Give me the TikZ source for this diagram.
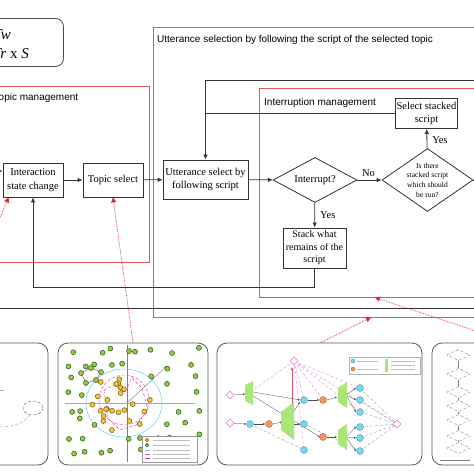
\documentclass[tikz,border=0pt]{standalone}
\usepackage{fontspec}
\setmainfont{Liberation Serif}
\newfontfamily\arial{Liberation Sans}
\usetikzlibrary{shapes.geometric,arrows.meta,calc}
\definecolor{redbox}{RGB}{225,85,100}
\definecolor{reddot}{RGB}{215,40,60}
\definecolor{gdot}{RGB}{150,200,70}
\definecolor{gdotd}{RGB}{40,90,20}
\definecolor{ydot}{RGB}{235,200,60}
\definecolor{ydotd}{RGB}{120,90,10}
\definecolor{cyc}{RGB}{120,215,240}
\definecolor{orc}{RGB}{240,150,110}
\definecolor{trg}{RGB}{170,230,120}
\definecolor{pnk}{RGB}{230,120,200}
\tikzset{
  flowbox/.style={draw=black!80, line width=0.8pt, fill=white, align=center,
    inner sep=1pt, font=\fontsize{10.5}{13.5}\selectfont},
  flowdia/.style={draw=black!80, line width=0.8pt, fill=white, diamond, inner sep=0pt},
  arr/.style={draw=black!80, line width=0.8pt, -{Latex[length=5pt,width=4.5pt]}},
  plain/.style={draw=black!80, line width=0.8pt},
  redframe/.style={draw=redbox, line width=1.1pt},
  redarr/.style={draw=reddot, line width=0.7pt, densely dotted, -{Triangle[length=5pt,width=5pt]}},
  panel/.style={draw=black!65, line width=0.8pt, rounded corners=10pt, fill=white},
  grp/.style={font=\arial\fontsize{10}{12}\selectfont, inner sep=0pt, anchor=base west},
  lbl/.style={font=\fontsize{10.5}{12}\selectfont, inner sep=0pt},
  gd/.style={circle, draw=gdotd, fill=gdot, line width=0.5pt, inner sep=0pt, minimum size=5pt},
  yd/.style={circle, draw=ydotd, fill=ydot, line width=0.5pt, inner sep=0pt, minimum size=5pt},
  cc/.style={circle, draw=cyan!60!black, fill=cyc, line width=0.3pt, inner sep=0pt, minimum size=7pt},
  oc/.style={circle, draw=orange!70!black, fill=orc, line width=0.3pt, inner sep=0pt, minimum size=7pt},
  tinyarr/.style={draw=black!70, line width=0.3pt, -{Latex[length=2pt,width=2pt]}},
  tinydash/.style={draw=pnk, line width=0.3pt, densely dashed},
  graydash/.style={draw=black!45, line width=0.3pt, densely dashed},
}
\begin{document}
\begin{tikzpicture}[x=1pt,y=-1pt]
\useasboundingbox[fill=white] (0,0) rectangle (474,474);

% group frames
\draw[redframe] (153.5,27.5) rectangle (485,317.5);
\node[grp] (gus) at (157,42.5) {Utterance selection by following the script of the selected topic};
\draw[redframe] (-10,86.5) rectangle (149.5,262.5);
\node[grp] (gtm) at (-6.5,100.5) {Topic management};
\draw[redframe] (259.5,88.5) rectangle (485,297.5);
\node[grp] (gim) at (264,105) {Interruption management};

% top-left formula box
\draw[draw=black!70, line width=0.8pt, rounded corners=8pt] (-20,18.5) rectangle (63.5,66.5);
\node[font=\fontsize{15}{16}\selectfont\itshape, inner sep=0pt, anchor=base east] (fw) at (11,39) {Tw};
\node[font=\fontsize{15}{16}\selectfont, inner sep=0pt, anchor=base east] (frs) at (29,58) {\textit{Tr} x \textit{S}};

% separator line
\coordinate (sepL) at (-5,308.5);
\coordinate (sepR) at (480,308.5);
\draw[plain] (sepL) -- (sepR);

% flow nodes
\node[flowbox, minimum width=60pt, minimum height=34pt] (isc) at (33,180) {Interaction\\state change};
\node[flowbox, minimum width=60pt, minimum height=34pt] (tps) at (113,180) {Topic select};
\node[flowbox, minimum width=85pt, minimum height=39pt] (utt) at (205.5,179.5) {Utterance select by\\following script};
\node[flowdia, minimum width=84pt, minimum height=45pt,
  label={[lbl]center:Interrupt?}] (int) at (315,180) {};
\node[flowdia, minimum width=91pt, minimum height=63pt,
  label={[align=center, inner sep=0pt, font=\fontsize{7.6}{9.7}\selectfont]center:Is there\\stacked script\\which should\\be run?}] (iss) at (427.5,180) {};
\node[flowbox, minimum width=63pt, minimum height=40pt, font=\fontsize{10}{12.5}\selectfont] (stk) at (314.5,248) {Stack what\\remains of the\\script};
\node[flowbox, minimum width=59pt, minimum height=30pt, font=\fontsize{10.5}{13.3}\selectfont] (sel) at (426.5,113.5) {Select stacked\\script};

% connectors
\coordinate (inl) at (-20,171);
\draw[arr] (inl) -- (inl -| isc.west);
\draw[arr] (isc) -- (tps);
\draw[arr] (tps) -- (utt);
\draw[arr] (utt) -- (int);
\draw[arr] (int) -- node[lbl, above, yshift=3pt, xshift=-1pt] (lno) {No} (iss);
\draw[arr] (int) -- node[lbl, right, xshift=5pt] (lyes1) {Yes} (stk);
\draw[arr] (iss) -- node[lbl, right, xshift=5pt, yshift=-1pt] (lyes2) {Yes} (sel);
\coordinate (lt) at (205.5,80.5);
\coordinate (rt) at (486,80.5);
\draw[arr] (iss.east) -| (rt) -- (lt) -- (utt.north);
\draw[plain] (sel.west) -- (sel.west -| lt);
\draw[arr] (stk.south) -- ++(0,19) -| (isc.south);

% red dotted reference arrows
\coordinate (r1) at (-5,229);
\draw[redarr] (r1) -- ($(isc.south west)+(6,0)$);
\coordinate (r2) at (133,343);
\draw[redarr] (r2) -- (tps.south);
\coordinate (r3) at (482,333);
\coordinate (r3e) at (375,297.5);
\draw[redarr] (r3) -- (r3e);
\coordinate (r4) at (318,344);
\coordinate (r4e) at (371,317.5);
\draw[redarr] (r4) -- (r4e);

% ---------- bottom panels ----------
% panel 1
\draw[panel] (-20,343) rectangle (48,465);
\draw[black!60, line width=0.4pt, densely dashed] (33,408) ellipse (10 and 7);
\draw[black!30, line width=0.5pt, densely dashed] (30,415) .. controls (22,425) and (10,427) .. (-2,427);
\draw[black!30, line width=0.4pt] (0,390) -- (4,390);

% panel 2
\draw[panel] (58,343) rectangle (208,465);
\begin{scope}
\clip[rounded corners=10pt] (58,343) rectangle (208,465);
\draw[black!50, line width=0.7pt] (127,345) -- (127,462);
\draw[black!35, line width=0.7pt] (65,403) -- (195,403);
\draw[cyan!60, line width=0.5pt] (124,403) ellipse (38 and 34);
\draw[magenta!70, line width=0.5pt, densely dashed] (124,400) circle (25);
\draw[black!50, line width=0.4pt, -{Latex[length=3pt,width=2.5pt]}] (127,403) -- (167,366);
\pgfmathsetseed{11}
\foreach \ix in {0,...,9}{
  \foreach \iy in {0,...,7}{
    \pgfmathsetmacro\px{70+\ix*14+5*rand}
    \pgfmathsetmacro\py{352+\iy*14+5*rand}
    \pgfmathsetmacro\dd{((\px-124)/38)^2+((\py-402)/34)^2}
    \pgfmathsetmacro\keep{rnd}
    \pgfmathparse{and(\dd>1.05,\keep<0.72) ? 1 : 0}
    \ifdim\pgfmathresult pt>0.5pt \node[gd] at (\px,\py) {};\fi
  }
}
\draw[violet!70, line width=0.5pt] (81,373) -- (91,368) -- (101,372) -- (96,380) -- (86,383) -- (81,373);
\foreach \p in {(81,373),(91,368),(101,372),(96,380),(86,383)} \node[gd] at \p {};
\pgfmathsetseed{5}
\foreach \i in {1,...,24}{
  \pgfmathsetmacro\ang{360*rnd}
  \pgfmathsetmacro\rr{8+26*rnd}
  \pgfmathsetmacro\px{124+\rr*cos(\ang)}
  \pgfmathsetmacro\py{401+0.95*\rr*sin(\ang)}
  \node[yd] at (\px,\py) {};
}
\draw[magenta!80, line width=0.4pt, densely dashed] (104,390) -- (115,385) -- (125,392) -- (132,378) -- (142,388) -- (148,410) -- (136,425) -- (120,430) -- (108,418) -- (104,390);
\draw[fill=white, draw=black!40, line width=0.3pt] (142,436) rectangle (197,462);
\node[yd, minimum size=3.5pt] at (147,440) {};
\node[gd, minimum size=3.5pt] at (147,445) {};
\draw[cyan!60, line width=0.3pt] (145,450) -- (150,450);
\draw[magenta!70, line width=0.3pt] (145,454) -- (150,454);
\draw[violet!70, line width=0.3pt] (145,458) -- (150,458);
\foreach \yy in {440,445,450,454,458} \draw[black!25, line width=0.5pt] (153,\yy) -- (190,\yy);
\end{scope}

% panel 3
\draw[panel] (217,343) rectangle (422,465);
\draw[fill=white, draw=black!30, line width=0.3pt] (349,357) rectangle (420,374);
\node[cc, minimum size=4pt] at (353,361) {};
\node[oc, minimum size=4pt] at (353,369) {};
\fill[trg] (385,359) rectangle (388,372);
\foreach \yy in {361,369} \draw[black!25, line width=0.5pt] (357,\yy) -- (378,\yy);
\foreach \yy in {361,365,369} \draw[black!25, line width=0.5pt] (391,\yy) -- (415,\yy);
\foreach \t in {(249,393),(304,400),(323,400),(360,388),(360,412),(304,450),(397,424)} \draw[tinydash] (294,361) -- \t;
\draw[graydash] (250,424) -- (304,450);
\draw[graydash] (304,424) -- (360,451);
\foreach \t in {(360,388),(360,400),(360,412),(360,427),(360,438),(360,451)} \draw[graydash] \t -- (397,424);
\draw[draw=reddot!80, line width=0.8pt, -{Latex[length=3pt,width=3pt]}] (292,420) -- (292,367);
\draw[tinyarr] (230,423) -- (246,424);
\draw[tinyarr] (254,424) -- (265,424);
\draw[tinyarr] (273,424) -- (282,422);
\draw[tinyarr] (292,414) -- (300,402);
\draw[tinyarr] (292,424) -- (300,424);
\draw[tinyarr] (308,400) -- (319,400);
\draw[tinyarr] (327,400) -- (337,397);
\draw[tinyarr] (327,437) -- (337,437);
\foreach \yy in {388,400,412} \draw[tinyarr] (346,395) -- (356,\yy);
\foreach \yy in {427,438,451} \draw[tinyarr] (346,437) -- (356,\yy);
\draw[tinyarr] (234,395) -- (245,394);
\draw[tinyarr] (253,392) -- (300,400);
\draw[tinyarr] (253,396) -- (320,437);
\foreach \p in {(230,395),(230,423),(294,361),(397,424)}
  \draw[fill=white, draw=pnk, line width=0.5pt] \p +(-4,0) -- +(0,-4) -- +(4,0) -- +(0,4) -- cycle;
\fill[trg] (245,385) -- (253,381) -- (253,405) -- (245,401) -- cycle;
\fill[trg] (281,412) -- (294,402) -- (294,440) -- (281,430) -- cycle;
\fill[trg] (338,388) -- (347,382) -- (347,408) -- (338,402) -- cycle;
\fill[trg] (338,430) -- (347,424) -- (347,450) -- (338,444) -- cycle;
\foreach \p in {(250,424),(304,400),(304,424),(304,450),(360,388),(360,400),(360,412),(360,427),(360,438),(360,451)} \node[cc] at \p {};
\foreach \p in {(269,424),(323,400),(323,437)} \node[oc] at \p {};

% panel 4
\draw[panel] (432,343) rectangle (495,465);
\foreach \yy in {355,374,392,406,420,436,448}
  \draw[draw=black!50, line width=0.35pt, densely dashed, fill=white] (447,\yy) -- (458.5,\yy-5.5) -- (470,\yy) -- (458.5,\yy+5.5) -- cycle;
\foreach \a/\b in {355/374,374/392,392/406,406/420,420/436,436/448}
  \draw[draw=black!50, line width=0.3pt, -{Latex[length=2pt,width=2pt]}] (458.5,\a+5.5) -- (458.5,\b-5.5);
\draw[black!50, line width=0.4pt] (440,460) -- (470,460);
\end{tikzpicture}
\end{document}
